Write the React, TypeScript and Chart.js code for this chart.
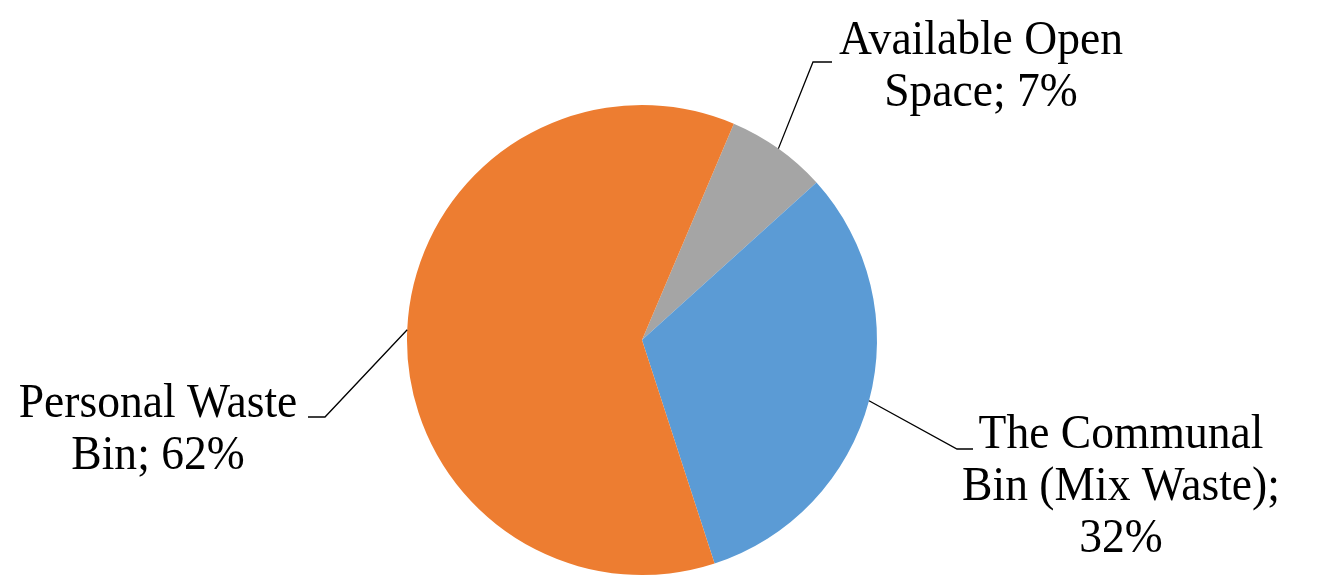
import React, { useEffect, useRef } from "react";
import { Chart, registerables } from "chart.js";

Chart.register(...registerables);

const categories = ["Available Open Space", "The Communal Bin (Mix Waste)", "Personal Waste Bin"];
const values = [7, 32, 62];
const colors = ["#A5A5A5", "#5B9BD5", "#ED7D31"];

// label layout (offsets relative to pie centre, px)
const labelLayout = [
  { elbow: [171, -278], end: [190, -278], textX: 339, baseline: -286 },
  { elbow: [315, 109], end: [331, 109], textX: 479, baseline: 108 },
  { elbow: [-317, 77], end: [-334, 77], textX: -484, baseline: 77 },
];

const FONT = "49px 'Liberation Serif', 'Times New Roman', serif";
const XSCALE = 0.93;
const LINE_H = 52;
const WRAP = 360;

function wrap(ctx: CanvasRenderingContext2D, text: string, max: number): string[] {
  const words = text.split(" ");
  const lines: string[] = [];
  let cur = "";
  for (const w of words) {
    const t = cur ? cur + " " + w : w;
    if (ctx.measureText(t).width > max && cur) {
      lines.push(cur);
      cur = w;
    } else cur = t;
  }
  if (cur) lines.push(cur);
  return lines;
}

const labelPlugin = {
  id: "leaderLabels",
  afterDatasetsDraw(chart: any) {
    const ctx: CanvasRenderingContext2D = chart.ctx;
    const meta = chart.getDatasetMeta(0);
    ctx.save();
    ctx.font = FONT;
    ctx.fillStyle = "#000";
    ctx.strokeStyle = "#000";
    ctx.lineWidth = 1.3;
    ctx.textAlign = "center";
    ctx.textBaseline = "alphabetic";
    meta.data.forEach((arc: any, i: number) => {
      const { x, y, startAngle, endAngle, outerRadius } = arc.getProps(
        ["x", "y", "startAngle", "endAngle", "outerRadius"],
        true
      );
      const mid = (startAngle + endAngle) / 2;
      const sx = x + Math.cos(mid) * outerRadius;
      const sy = y + Math.sin(mid) * outerRadius;
      const L = labelLayout[i];
      ctx.beginPath();
      ctx.moveTo(sx, sy);
      ctx.lineTo(x + L.elbow[0], y + L.elbow[1]);
      ctx.lineTo(x + L.end[0], y + L.end[1]);
      ctx.stroke();
      const text = `${categories[i]}; ${values[i]}%`;
      const lines = wrap(ctx, text, WRAP);
      lines.forEach((ln, k) => {
        ctx.save();
        ctx.translate(x + L.textX, y + L.baseline + k * LINE_H);
        ctx.scale(XSCALE, 1);
        ctx.fillText(ln, 0, 0);
        ctx.restore();
      });
    });
    ctx.restore();
  },
};

export default function App() {
  const ref = useRef<HTMLCanvasElement>(null);
  useEffect(() => {
    document.body.style.margin = "0";
    const chart = new Chart(ref.current!, {
      type: "pie",
      data: {
        labels: categories,
        datasets: [
          {
            data: values,
            backgroundColor: colors,
            borderWidth: 0,
          },
        ],
      },
      options: {
        animation: false,
        responsive: false,
        rotation: 23,
        layout: { padding: { left: 407, right: 454, top: 105, bottom: 10 } },
        plugins: {
          legend: { display: false },
          tooltip: { enabled: false },
        },
      },
      plugins: [labelPlugin],
    });
    return () => chart.destroy();
  }, []);
  return (
    <div style={{ width: 1331, height: 585, background: "#fff" }}>
      <canvas ref={ref} width={1331} height={585} style={{ display: "block" }} />
    </div>
  );
}
